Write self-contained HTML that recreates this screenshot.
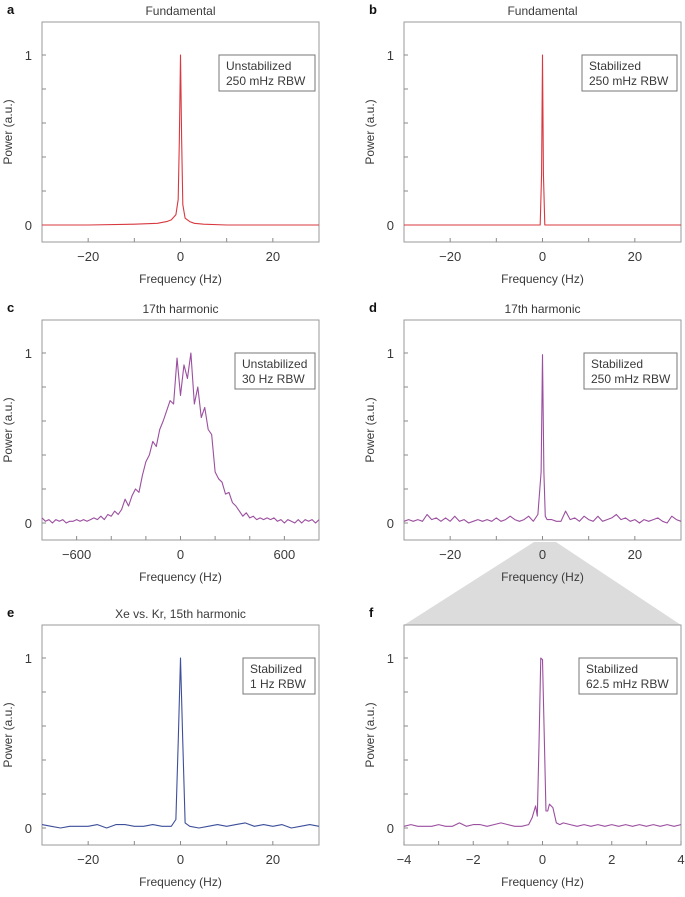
<!DOCTYPE html>
<html><head><meta charset="utf-8"><style>
body{margin:0;background:#fff;}
svg text{font-family:"Liberation Sans",sans-serif;fill:#3a3a3a;}
</style></head><body>
<svg id="fig" width="685" height="892" viewBox="0 0 685 892" xmlns="http://www.w3.org/2000/svg">
<polygon points="534,542 556,542 681,625 404,625" fill="#dcdcdd"/>
</svg>
<script>
// Panel a – fundamental, unstabilized
const aFreq=[-30,-20,-10,-5,-3,-2,-1,-0.5,-0.25,0,0.25,0.5,1,2,3,5,10,20,30];
const aPower=[0,0,0.005,0.01,0.02,0.03,0.06,0.15,0.5,1,0.5,0.12,0.04,0.02,0.01,0.005,0,0,0];
// Panel b – fundamental, stabilized
const bFreq=[-30,-0.5,-0.2,0,0.2,0.5,30];
const bPower=[0,0,0.3,1,0.3,0,0];
// Panel c – 17th harmonic, unstabilized
const cFreq=[-800,-780,-760,-740,-720,-700,-680,-660,-640,-620,-600,-580,-560,-540,-520,-500,-480,-460,-440,-420,-400,-380,-360,-340,-320,-300,-280,-260,-240,-220,-200,-180,-160,-140,-120,-100,-80,-60,-40,-20,0,20,40,60,80,100,120,140,160,180,200,220,240,260,280,300,320,340,360,380,400,420,440,460,480,500,520,540,560,580,600,620,640,660,680,700,720,740,760,780,800];
const cPower=[0.03,0.01,0.02,0,0.02,0.01,0.02,0,0.01,0.01,0.02,0.01,0.02,0.01,0.02,0.03,0.02,0.04,0.02,0.05,0.04,0.07,0.05,0.08,0.14,0.1,0.16,0.2,0.18,0.28,0.36,0.4,0.48,0.45,0.55,0.6,0.66,0.72,0.7,0.97,0.75,0.93,0.85,1.0,0.7,0.8,0.62,0.68,0.55,0.52,0.3,0.26,0.24,0.17,0.18,0.12,0.1,0.07,0.04,0.06,0.03,0.04,0.02,0.03,0.02,0.03,0.02,0.03,0.01,0.02,0,0.02,0.01,0,0.02,0,0.02,0.01,0.02,0,0.02];
// Panel d – 17th harmonic, stabilized
const dFreq=[-30,-29,-28,-27,-26,-25,-24,-23,-22,-21,-20,-19,-18,-17,-16,-15,-14,-13,-12,-11,-10,-9,-8,-7,-6,-5,-4,-3,-2,-1,-0.3,0,0.3,0.6,1,2,3,4,5,6,7,8,9,10,11,12,13,14,15,16,17,18,19,20,21,22,23,24,25,26,27,28,29,30];
const dPower=[0.01,0.02,0.01,0.02,0.01,0.05,0.02,0.03,0.01,0.03,0.01,0.04,0.01,0.02,0.0,0.01,0.02,0.01,0.02,0.01,0.03,0.01,0.02,0.04,0.02,0.01,0.02,0.04,0.01,0.05,0.3,0.99,0.3,0.04,0.02,0.02,0.01,0.01,0.07,0.02,0.03,0.01,0.04,0.02,0.01,0.04,0.01,0.02,0.03,0.05,0.02,0.03,0.01,0.02,0.0,0.02,0.01,0.02,0.03,0.01,0.0,0.04,0.02,0.01];
// Panel e – Xe vs Kr, 15th harmonic
const eFreq=[-30,-28,-26,-24,-22,-20,-18,-16,-14,-12,-10,-8,-6,-4,-2,-1,-0.5,0,0.5,1,2,4,6,8,10,12,14,16,18,20,22,24,26,28,30];
const ePower=[0.02,0.01,0.0,0.01,0.01,0.01,0.02,0.0,0.02,0.02,0.01,0.01,0.02,0.01,0.01,0.05,0.5,1.0,0.5,0.03,0.01,0.0,0.01,0.02,0.01,0.02,0.03,0.01,0.02,0.01,0.02,0.0,0.01,0.02,0.01];
// Panel f – 17th harmonic zoom
const fFreq=[-4,-3.8,-3.6,-3.4,-3.2,-3,-2.8,-2.6,-2.4,-2.2,-2,-1.8,-1.6,-1.4,-1.2,-1,-0.8,-0.6,-0.4,-0.3,-0.2,-0.15,-0.1,-0.05,0,0.05,0.1,0.15,0.2,0.3,0.4,0.5,0.6,0.8,1,1.2,1.4,1.6,1.8,2,2.2,2.4,2.6,2.8,3,3.2,3.4,3.6,3.8,4];
const fPower=[0.01,0.02,0.01,0.01,0.01,0.02,0.01,0.01,0.03,0.01,0.02,0.02,0.01,0.02,0.03,0.02,0.01,0.01,0.02,0.06,0.13,0.07,0.5,1.0,0.99,0.55,0.1,0.1,0.14,0.12,0.03,0.02,0.03,0.02,0.01,0.02,0.01,0.02,0.01,0.02,0.01,0.02,0.01,0.02,0.01,0.02,0.01,0.02,0.01,0.02];
const xTicksA=[-20,-10,0,10,20];
const xTickLabelsA=["\u221220","","0","","20"];
const xTicksC=[-600,-400,-200,0,200,400,600];
const xTickLabelsC=["\u2212600","","","0","","","600"];
const xTicksF=[-4,-3,-2,-1,0,1,2,3,4];
const xTickLabelsF=["\u22124","","\u22122","","0","","2","","4"];
const yTicks=[0,0.2,0.4,0.6,0.8,1];
const yTickLabels=["0","","","","","1"];

const NS="http://www.w3.org/2000/svg";
const svg=document.getElementById('fig');
function mk(tag,attrs,parent){const e=document.createElementNS(NS,tag);for(const k in attrs)e.setAttribute(k,attrs[k]);(parent||svg).appendChild(e);return e;}

function panel(p){
  const g=mk('g',{});
  
  
  const L=p.x0,R=p.x0+277,T=p.y0,B=p.y0+220;
  const xs=v=>L+(v-p.xmin)/(p.xmax-p.xmin)*(R-L);
  const ys=v=>(T+33)+(1-v)*170;
  const frame=mk('rect',{x:L,y:T,width:R-L,height:B-T,fill:'none',stroke:'#9a9a9a','stroke-width':1},g);
  
  
  p.xt.forEach((t,i)=>{
    const X=xs(t);
    const tk=mk('line',{x1:X,x2:X,y1:B,y2:B-4,stroke:'#8a8a8a'},g);
    
    
    if(p.xl[i]!==''){const tx=mk('text',{x:X,y:B+19,'text-anchor':'middle','font-size':13},g);tx.textContent=p.xl[i];
      
      }
  });
  yTicks.forEach((t,i)=>{
    const Y=ys(t);
    const tk=mk('line',{x1:L,x2:L+4,y1:Y,y2:Y,stroke:'#8a8a8a'},g);
    
    
    if(yTickLabels[i]!==''){const tx=mk('text',{x:L-10,y:Y+5,'text-anchor':'end','font-size':13},g);tx.textContent=yTickLabels[i];
      
      }
  });
  const d=p.fx.map((f,i)=>(i?'L':'M')+xs(f).toFixed(2)+','+ys(p.fy[i]).toFixed(2)).join(' ');
  const path=mk('path',{d:d,fill:'none',stroke:p.color,'stroke-width':1.1,'stroke-linejoin':'round'},g);
  
  
  const title=mk('text',{x:(L+R)/2,y:T-7,'text-anchor':'middle','font-size':12},g);title.textContent=p.title;
  
  
  const lab=mk('text',{x:L-35,y:T-8,'font-size':13,'font-weight':'bold',style:'fill:#111'},g);lab.textContent=p.id;
  
  
  const xl=mk('text',{x:(L+R)/2,y:B+41,'text-anchor':'middle','font-size':12},g);xl.textContent='Frequency (Hz)';
  
  
  const yl=mk('text',{x:0,y:0,'text-anchor':'middle','font-size':12,transform:'translate('+(L-30)+','+(T+110)+') rotate(-90)'},g);yl.textContent='Power (a.u.)';
  
  
  const bx=R-p.bw-4, by=T+33;
  const box=mk('rect',{x:bx,y:by,width:p.bw,height:36,fill:'#fff',stroke:'#777'},g);
  
  
  p.note.forEach((s,i)=>{const t=mk('text',{x:bx+7,y:by+15+i*15,'font-size':12},g);t.textContent=s;
    
    });
}
panel({id:'a',x0:42,y0:22,xmin:-30,xmax:30,xt:xTicksA,xl:xTickLabelsA,fx:aFreq,fy:aPower,color:'#d8383f',title:'Fundamental',note:['Unstabilized','250 mHz RBW'],bw:96});
panel({id:'b',x0:404,y0:22,xmin:-30,xmax:30,xt:xTicksA,xl:xTickLabelsA,fx:bFreq,fy:bPower,color:'#d8383f',title:'Fundamental',note:['Stabilized','250 mHz RBW'],bw:95});
panel({id:'c',x0:42,y0:320,xmin:-800,xmax:800,xt:xTicksC,xl:xTickLabelsC,fx:cFreq,fy:cPower,color:'#9b4f9f',title:'17th harmonic',note:['Unstabilized','30 Hz RBW'],bw:80});
panel({id:'d',x0:404,y0:320,xmin:-30,xmax:30,xt:xTicksA,xl:xTickLabelsA,fx:dFreq,fy:dPower,color:'#9b4f9f',title:'17th harmonic',note:['Stabilized','250 mHz RBW'],bw:93});
panel({id:'e',x0:42,y0:625,xmin:-30,xmax:30,xt:xTicksA,xl:xTickLabelsA,fx:eFreq,fy:ePower,color:'#3d4f9a',title:'Xe vs. Kr, 15th harmonic',note:['Stabilized','1 Hz RBW'],bw:72});
panel({id:'f',x0:404,y0:625,xmin:-4,xmax:4,xt:xTicksF,xl:xTickLabelsF,fx:fFreq,fy:fPower,color:'#9b4f9f',title:'',note:['Stabilized','62.5 mHz RBW'],bw:98});
</script>
</body></html>
